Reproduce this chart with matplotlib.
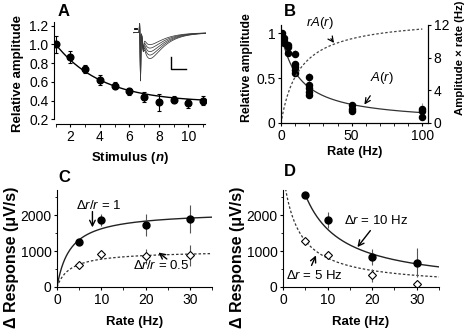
import matplotlib
matplotlib.use('Agg')
import matplotlib.pyplot as plt
import numpy as np

plt.rcParams['font.family'] = ['Liberation Sans', 'DejaVu Sans']
plt.rcParams['font.size'] = 10
plt.rcParams['mathtext.fontset'] = 'custom'
plt.rcParams['mathtext.rm'] = 'Liberation Sans'
plt.rcParams['mathtext.it'] = 'Liberation Sans:italic'
plt.rcParams['mathtext.bf'] = 'Liberation Sans:bold'
plt.rcParams['mathtext.bfit'] = 'Liberation Sans:italic:bold'
plt.rcParams['axes.linewidth'] = 0.8
plt.rcParams['xtick.major.size'] = 2.5
plt.rcParams['ytick.major.size'] = 2.5
plt.rcParams['xtick.minor.size'] = 1.8
plt.rcParams['ytick.minor.size'] = 1.8
plt.rcParams['xtick.major.pad'] = 1.5
plt.rcParams['ytick.major.pad'] = 1.5
plt.rcParams['xtick.labelsize'] = 10
plt.rcParams['ytick.labelsize'] = 10

# ---------------- data ----------------
# Panel A
stim_n = [1, 2, 3, 4, 5, 6, 7, 8, 9, 10, 11]
amp_a = [1.00, 0.867, 0.74, 0.62, 0.56, 0.50, 0.44, 0.38, 0.41, 0.37, 0.40]
amp_a_err = [0.09, 0.06, 0.045, 0.05, 0.04, 0.035, 0.05, 0.09, 0.04, 0.05, 0.05]
fit_a_base, fit_a_amp, fit_a_tau = 0.38, 0.62, 3.16
inset_depths = [0.95, 1.22, 1.50, 1.77, 2.05]

# Panel B
rate_b = [1, 1, 2, 2, 2, 5, 5, 5, 10, 10, 10, 10, 10,
          20, 20, 20, 20, 20, 50, 50, 50, 100, 100, 100]
amp_b = [1.00, 0.96, 0.94, 0.915, 0.885, 0.87, 0.85, 0.78,
         0.77, 0.655, 0.625, 0.59, 0.56,
         0.51, 0.42, 0.385, 0.35, 0.31,
         0.20, 0.16, 0.13, 0.16, 0.13, 0.07]
amp_b_err = [0.03, 0.03, 0.03, 0.03, 0.03, 0.03, 0.03, 0.04,
             0.04, 0.03, 0.03, 0.03, 0.03,
             0.05, 0.03, 0.03, 0.03, 0.03,
             0.02, 0.02, 0.02, 0.06, 0.03, 0.02]
fit_b_k = 13.0

# Panel C
rate_c = [5, 10, 20, 30]
resp_c1 = [1260, 1860, 1720, 1890]
resp_c1_err = [60, 170, 310, 400]
resp_c05 = [620, 910, 850, 880]
resp_c05_err = [40, 90, 200, 300]
fit_c1_max, fit_c05_max, fit_c_k = 2113, 1010, 3.04

# Panel D
rate_d = [5, 10, 20, 30]
resp_d10 = [2570, 1860, 830, 680]
resp_d10_err = [80, 220, 220, 400]
resp_d5 = [1290, 900, 330, 70]
resp_d5_err = [30, 90, 180, 60]
fit_d10_c, fit_d5_c, fit_d_k = 21480, 10740, 3.36

W, H = 474, 332
fig = plt.figure(figsize=(W / 100, H / 100), dpi=100)


def px_axes(l, t, r, b):
    return fig.add_axes([l / W, 1 - b / H, (r - l) / W, (b - t) / H])


label_kw = dict(fontsize=9.5, fontweight='bold')
ann_fs = 9.5
letter_fs = 12

# ---------------- Panel A ----------------
axA = px_axes(54, 22, 206, 124)
nn = np.linspace(1, 11, 200)
axA.plot(nn, fit_a_base + fit_a_amp * np.exp(-(nn - 1) / fit_a_tau), color='black', lw=1.0)
axA.errorbar(stim_n, amp_a, yerr=amp_a_err, fmt='o', color='black', ms=4.8,
             elinewidth=0.8, capsize=1.5, capthick=0.8)
axA.set_xlim(0.88, 11.2)
axA.set_ylim(0.15, 1.24)
axA.spines['top'].set_visible(False)
axA.spines['right'].set_visible(False)
axA.spines['left'].set_bounds(0.2, 1.24)
axA.spines['bottom'].set_bounds(1, 11.15)
axA.set_xticks([2, 4, 6, 8, 10])
axA.set_xticks(stim_n, minor=True)
axA.set_yticks([0.2, 0.4, 0.6, 0.8, 1.0, 1.2])
axA.set_yticklabels(['0.2', '0.4', '0.6', '0.8', '1.0', '1.2'])
axA.set_xlabel('Stimulus ($\\mathbfit{n}$)', labelpad=5, **label_kw)
axA.set_ylabel('Relative amplitude', labelpad=4, fontsize=9.5, fontweight='bold')
fig.text(58 / W, 1 - 12 / H, 'A', fontsize=letter_fs, fontweight='bold', va='center')

# inset traces (illustrative raw responses)
axI = px_axes(133, 20, 206, 82)
t = np.linspace(0, 41, 1200)
spike = 0.75 * np.exp(-((t - 3.7) / 0.18) ** 2) - 3.8 * np.exp(-((t - 4.2) / 0.22) ** 2)
notch = -0.9 * np.exp(-((t - 5.6) / 0.6) ** 2)
ts = np.clip(t - 5.2, 0, None)
shape = np.exp(-ts / 8.0) - np.exp(-ts / 2.6)
shape = shape / shape.max()
for d in inset_depths:
    axI.plot(t, spike + notch - d * shape, color='#3a3a3a', lw=0.55)
axI.plot([1.0, 2.2], [0.25, 0.25], color='black', lw=1.3)
axI.plot([21.5, 21.5, 29.5], [-1.95, -2.85, -2.85], color='black', lw=1.0)
axI.set_xlim(0, 41)
axI.set_ylim(-3.9, 1.0)
axI.axis('off')

# ---------------- Panel B ----------------
axB = px_axes(281, 25, 428, 123)
rr = np.linspace(0.3, 100, 400)
A_r = 1 / (1 + rr / fit_b_k)
axB.errorbar(rate_b, amp_b, yerr=amp_b_err, fmt='o', color='black', ms=4.4,
             ecolor='#999999', elinewidth=0.8, capsize=0)
axB.plot(rr, A_r, color='#333333', lw=0.9)
axB.set_xlim(0, 104)
axB.set_ylim(0, 1.09)
axB.set_xticks([0, 50, 100])
axB.set_xticks(np.arange(0, 101, 10), minor=True)
axB.set_yticks([0, 0.5, 1])
axB.set_yticklabels(['0', '0.5', '1'])
axB.spines['top'].set_visible(False)
axB2 = axB.twinx()
rr2 = np.linspace(0, 100, 400)
axB2.plot(rr2, rr2 / (1 + rr2 / fit_b_k), color='#444444', lw=0.9, ls=(0, (2, 1.6)))
axB2.set_ylim(0, 12)
axB2.set_yticks([0, 4, 8, 12])
axB2.spines['top'].set_visible(False)
axB.set_xlabel('Rate (Hz)', labelpad=2.5, fontsize=9.2, fontweight='bold')
axB.set_ylabel('Relative amplitude', labelpad=2, fontsize=8.8, fontweight='bold')
axB.yaxis.label.set_y(0.57)
axB2.set_ylabel('Amplitude × rate (Hz)', labelpad=4, fontsize=8.2, fontweight='bold')
axB2.yaxis.label.set_y(0.67)
axB2.annotate('$rA$($r$)', xy=(37.5, 9.8), xytext=(27.6, 12.2), fontsize=ann_fs,
              ha='center', va='center', annotation_clip=False,
              arrowprops=dict(arrowstyle='->', lw=0.9, color='black', shrinkA=4, shrinkB=0))
axB.annotate('$A$($r$)', xy=(59, 0.205), xytext=(71.5, 0.5), fontsize=ann_fs,
             ha='center', va='center',
             arrowprops=dict(arrowstyle='->', lw=0.9, color='black', shrinkA=6, shrinkB=0))
fig.text(284 / W, 1 - 12 / H, 'B', fontsize=letter_fs, fontweight='bold', va='center')

# ---------------- Panel C ----------------
axC = px_axes(57, 190, 212, 287)
rc = np.linspace(0, 35, 300)
axC.plot(rc, fit_c1_max * rc / (rc + fit_c_k), color='#222222', lw=1.0)
axC.plot(rc, fit_c05_max * rc / (rc + fit_c_k), color='#333333', lw=0.9, ls=(0, (2, 1.6)))
axC.errorbar(rate_c, resp_c1, yerr=resp_c1_err, fmt='o', color='black', ms=5.0,
             ecolor='#555555', elinewidth=0.8, capsize=0)
axC.errorbar(rate_c, resp_c05, yerr=resp_c05_err, fmt='D', color='black', mfc='white',
             mec='black', mew=0.8, ms=4.0, ecolor='#555555', elinewidth=0.8, capsize=0)
axC.set_xlim(0, 35)
axC.set_ylim(0, 2700)
axC.set_xticks([0, 10, 20, 30])
axC.set_xticks(np.arange(0, 36, 5), minor=True)
axC.set_yticks([0, 1000, 2000])
axC.set_yticks([500, 1500, 2500], minor=True)
axC.spines['top'].set_visible(False)
axC.spines['right'].set_visible(False)
axC.set_xlabel('Rate (Hz)', labelpad=7, **label_kw)
axC.set_ylabel('Δ Response (μV/s)', labelpad=1, fontsize=11.5, fontweight='bold')
axC.yaxis.label.set_y(0.31)
axC.text(9.3, 2270, 'Δ$r$/$r$ = 1', fontsize=ann_fs, ha='center', va='center')
axC.annotate('', xy=(8.0, 1660), xytext=(8.0, 2100),
             arrowprops=dict(arrowstyle='->', lw=1.0, color='black', shrinkA=0, shrinkB=0))
axC.text(23.5, 600, 'Δ$r$/$r$ = 0.5', fontsize=ann_fs, ha='center', va='center')
axC.annotate('', xy=(22.9, 960), xytext=(24.8, 780),
             arrowprops=dict(arrowstyle='->', lw=1.0, color='black', shrinkA=0, shrinkB=0))
fig.text(58 / W, 1 - 178 / H, 'C', fontsize=letter_fs, fontweight='bold', va='center')

# ---------------- Panel D ----------------
axD = px_axes(283, 190, 439, 287)
rd1 = np.linspace(5, 35, 300)
rd2 = np.linspace(0.4, 35, 300)
axD.plot(rd1, fit_d10_c / (rd1 + fit_d_k), color='#222222', lw=1.0)
axD.plot(rd2, fit_d5_c / (rd2 + fit_d_k), color='#333333', lw=0.9, ls=(0, (2, 1.6)))
axD.errorbar(rate_d, resp_d10, yerr=resp_d10_err, fmt='o', color='black', ms=5.0,
             ecolor='#555555', elinewidth=0.8, capsize=0)
axD.errorbar(rate_d, resp_d5, yerr=resp_d5_err, fmt='D', color='black', mfc='white',
             mec='black', mew=0.8, ms=4.0, ecolor='#555555', elinewidth=0.8, capsize=0)
axD.set_xlim(0, 35)
axD.set_ylim(0, 2700)
axD.set_xticks([0, 10, 20, 30])
axD.set_xticks(np.arange(0, 36, 5), minor=True)
axD.set_yticks([0, 1000, 2000])
axD.set_yticks([500, 1500, 2500], minor=True)
axD.spines['top'].set_visible(False)
axD.spines['right'].set_visible(False)
axD.set_xlabel('Rate (Hz)', labelpad=7, **label_kw)
axD.set_ylabel('Δ Response (μV/s)', labelpad=1, fontsize=11.5, fontweight='bold')
axD.yaxis.label.set_y(0.31)
axD.text(20.9, 1850, 'Δ$r$ = 10 Hz', fontsize=ann_fs, ha='center', va='center')
axD.annotate('', xy=(16.7, 1110), xytext=(19.6, 1570),
             arrowprops=dict(arrowstyle='->', lw=1.0, color='black', shrinkA=0, shrinkB=0))
axD.text(7.1, 330, 'Δ$r$ = 5 Hz', fontsize=ann_fs, ha='center', va='center')
axD.annotate('', xy=(7.4, 880), xytext=(6.4, 600),
             arrowprops=dict(arrowstyle='->', lw=1.0, color='black', shrinkA=0, shrinkB=0))
fig.text(284 / W, 1 - 172 / H, 'D', fontsize=letter_fs, fontweight='bold', va='center')

fig.savefig('out.png', dpi=100)
